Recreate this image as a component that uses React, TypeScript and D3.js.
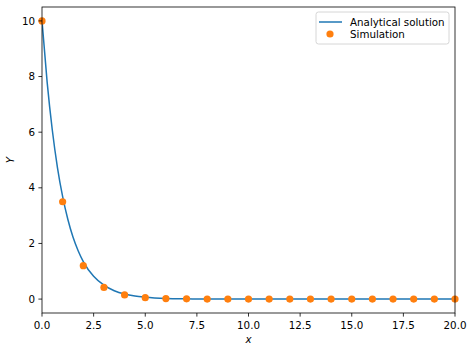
import React from "react";
import * as d3 from "d3";

// analytical curve
const analyticX = [0, 0.25, 0.5, 0.75, 1, 1.25, 1.5, 1.75, 2, 2.5, 3, 3.5, 4, 4.5, 5, 6, 7, 8, 10, 12, 15, 20];
const analyticY = [10, 7.79, 6.07, 4.72, 3.68, 2.87, 2.23, 1.74, 1.35, 0.82, 0.5, 0.3, 0.18, 0.11, 0.07, 0.025, 0.01, 0.003, 0, 0, 0, 0];

// simulation points
const simX = [0, 1, 2, 3, 4, 5, 6, 7, 8, 9, 10, 11, 12, 13, 14, 15, 16, 17, 18, 19, 20];
const simY = [10, 3.5, 1.2, 0.42, 0.15, 0.05, 0.02, 0.01, 0, 0, 0, 0, 0, 0, 0, 0, 0, 0, 0, 0, 0];

const xTicks = [0, 2.5, 5, 7.5, 10, 12.5, 15, 17.5, 20];
const yTicks = [0, 2, 4, 6, 8, 10];
const legendLabels = ["Analytical solution", "Simulation"];

const W = 474;
const H = 353;
const m = { left: 42, right: 455, top: 7, bottom: 313 };
const BLUE = "#1f77b4";
const ORANGE = "#ff7f0e";
const FONT = "DejaVu Sans, sans-serif";

export default function App() {
  const x = d3.scaleLinear().domain([0, 20]).range([m.left, m.right]);
  const y = d3.scaleLinear().domain([-0.5, 10.5]).range([m.bottom, m.top]);

  const line = d3
    .line<number>()
    .x((_, i) => x(analyticX[i]))
    .y((d) => y(d))
    .curve(d3.curveMonotoneX);

  return (
    <svg width={W} height={H} style={{ position: "absolute", left: 0, top: 0, background: "#fff" }} fontFamily={FONT}>
      <defs>
        <clipPath id="plot">
          <rect x={m.left} y={m.top} width={m.right - m.left} height={m.bottom - m.top} />
        </clipPath>
      </defs>
      <g clipPath="url(#plot)">
        <path d={line(analyticY) || ""} fill="none" stroke={BLUE} strokeWidth={1.5} />
      </g>
      {simY.map((v, i) => (
        <circle key={i} cx={x(simX[i])} cy={y(v)} r={3.6} fill={ORANGE} />
      ))}

      {/* spines */}
      <rect
        x={m.left}
        y={m.top}
        width={m.right - m.left}
        height={m.bottom - m.top}
        fill="none"
        stroke="#000"
        strokeWidth={0.8}
      />

      {/* x axis */}
      {xTicks.map((t) => (
        <g key={t} transform={`translate(${x(t)},${m.bottom})`}>
          <line y2={3.6} stroke="#000" strokeWidth={0.8} />
          <text y={16} textAnchor="middle" fontSize={10.3} fill="#000">
            {t.toFixed(1)}
          </text>
        </g>
      ))}
      <text x={(m.left + m.right) / 2} y={343} textAnchor="middle" fontSize={10.3} fontStyle="italic">
        x
      </text>

      {/* y axis */}
      {yTicks.map((t) => (
        <g key={t} transform={`translate(${m.left},${y(t)})`}>
          <line x2={-3.6} stroke="#000" strokeWidth={0.8} />
          <text x={-7} dy="0.35em" textAnchor="end" fontSize={10.3} fill="#000">
            {t}
          </text>
        </g>
      ))}
      <text
        transform={`translate(14,${(m.top + m.bottom) / 2}) rotate(-90)`}
        textAnchor="middle"
        fontSize={10.3}
        fontStyle="italic"
      >
        Y
      </text>

      {/* legend */}
      <g transform="translate(316,12)">
        <rect width={133} height={32} rx={2.5} fill="#fff" fillOpacity={0.8} stroke="#ccc" strokeWidth={0.8} />
        <line x1={3} x2={26} y1={10} y2={10} stroke={BLUE} strokeWidth={1.5} />
        <circle cx={14} cy={22} r={3.6} fill={ORANGE} />
        {legendLabels.map((l, i) => (
          <text key={l} x={34} y={10 + i * 12} dy="0.35em" fontSize={10.3} fill="#000">
            {l}
          </text>
        ))}
      </g>
    </svg>
  );
}
